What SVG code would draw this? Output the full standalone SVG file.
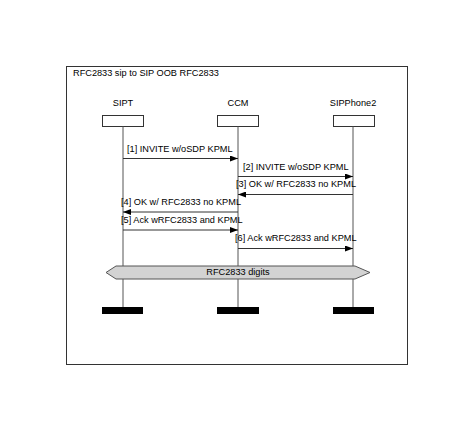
<svg xmlns="http://www.w3.org/2000/svg" width="474" height="431" viewBox="0 0 474 431">
<style>
text{font-family:"Liberation Sans",Arial,sans-serif;font-size:9.2px;fill:#000}
.life{stroke:#555;stroke-width:1}
.box{fill:#fff;stroke:#333;stroke-width:1}
.bar{fill:#000}
.msg{stroke:#333;stroke-width:1;fill:none;marker-end:url(#ah)}
</style>
<defs>
<marker id="ah" markerWidth="8" markerHeight="6" refX="8" refY="3" orient="auto" markerUnits="userSpaceOnUse">
<path d="M0,0 L8,3 L0,6 Z" fill="#000"/>
</marker>
</defs>
<rect x="0" y="0" width="474" height="431" fill="#fff"/>
<rect x="66.5" y="66.5" width="341" height="298" fill="none" stroke="#333"/>
<text x="73" y="76">RFC2833 sip to SIP OOB RFC2833</text>
<g id="SIPT">
<text x="123" y="106" text-anchor="middle">SIPT</text>
<rect class="box" x="102.5" y="115.5" width="41" height="11"/>
<line class="life" x1="123" y1="126.5" x2="123" y2="307"/>
<rect class="bar" x="102" y="307" width="41" height="7"/>
</g>
<g id="CCM">
<text x="238" y="106" text-anchor="middle">CCM</text>
<rect class="box" x="217.5" y="115.5" width="41" height="11"/>
<line class="life" x1="238" y1="126.5" x2="238" y2="307"/>
<rect class="bar" x="217" y="307" width="42" height="7"/>
</g>
<g id="SIPPhone2">
<text x="353" y="106" text-anchor="middle">SIPPhone2</text>
<rect class="box" x="333.5" y="115.5" width="41" height="11"/>
<line class="life" x1="353" y1="126.5" x2="353" y2="307"/>
<rect class="bar" x="333" y="307" width="41" height="7"/>
</g>
<g id="connectors">
<line class="msg" x1="123" y1="158.5" x2="238" y2="158.5"/>
<text x="127" y="152">[1] INVITE w/oSDP KPML</text>
<line class="msg" x1="238" y1="176.5" x2="353" y2="176.5"/>
<text x="243" y="169.5">[2] INVITE w/oSDP KPML</text>
<line class="msg" x1="353" y1="194.5" x2="238" y2="194.5"/>
<text x="236" y="187">[3] OK w/ RFC2833 no KPML</text>
<line class="msg" x1="238" y1="212" x2="123" y2="212"/>
<text x="121" y="205">[4] OK w/ RFC2833 no KPML</text>
<line class="msg" x1="123" y1="230" x2="238" y2="230"/>
<text x="121" y="223">[5] Ack wRFC2833 and KPML</text>
<line class="msg" x1="238" y1="248.5" x2="353" y2="248.5"/>
<text x="235" y="241">[6] Ack wRFC2833 and KPML</text>
</g>
<g id="band">
<polygon points="106,272.5 116,266 355,266 370,272.5 355,279 116,279" fill="#d3d3d3" stroke="#555"/>
<text x="238" y="275" text-anchor="middle">RFC2833 digits</text>
</g>
</svg>
